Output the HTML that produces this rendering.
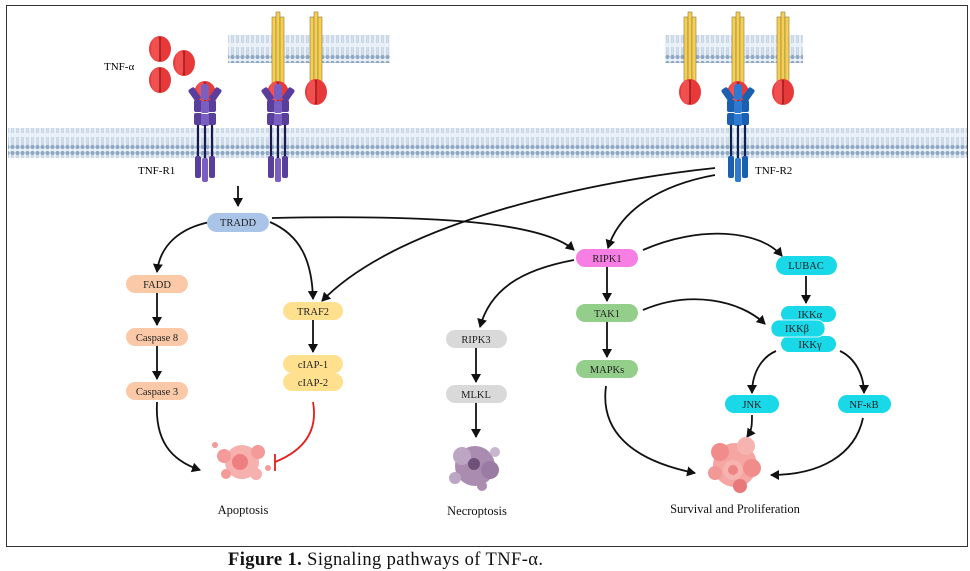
<!DOCTYPE html>
<html><head><meta charset="utf-8"><style>
html,body{margin:0;padding:0;background:#fff;}
svg{display:block;font-family:"Liberation Serif",serif;}
</style></head><body>
<svg width="970" height="571" viewBox="0 0 970 571" xmlns="http://www.w3.org/2000/svg">
<defs>
<pattern id="mem" x="0" y="0" width="5" height="30" patternUnits="userSpaceOnUse">
<rect width="5" height="30" fill="#e9f0f7"/>
<circle cx="2.5" cy="3" r="2.1" fill="#8ea8c4"/>
<circle cx="2.5" cy="27" r="2.1" fill="#8ea8c4"/>
<line x1="1.8" y1="5" x2="1.8" y2="13" stroke="#b4c6da" stroke-width="0.8"/>
<line x1="3.2" y1="5" x2="3.2" y2="13" stroke="#b4c6da" stroke-width="0.8"/>
<line x1="1.8" y1="17" x2="1.8" y2="25" stroke="#b4c6da" stroke-width="0.8"/>
<line x1="3.2" y1="17" x2="3.2" y2="25" stroke="#b4c6da" stroke-width="0.8"/>
</pattern>
<marker id="ar" markerWidth="10" markerHeight="10" refX="8" refY="5" orient="auto" markerUnits="userSpaceOnUse">
<path d="M0,0 L9,5 L0,10 z" fill="#111"/>
</marker>
<g id="tri">
<ellipse cx="0" cy="0" rx="11" ry="13" fill="#e63a3a"/>
<ellipse cx="-4" cy="0" rx="5" ry="12" fill="#f05050"/>
<line x1="0" y1="-12" x2="0" y2="12" stroke="#a01818" stroke-width="1.5"/>
</g>
<g id="rod">
<rect x="-6" y="-75" width="4" height="72" fill="#f6cf52" stroke="#8a7a40" stroke-width="0.6"/>
<rect x="-2" y="-80" width="4" height="80" fill="#f6cf52" stroke="#8a7a40" stroke-width="0.6"/>
<rect x="2" y="-75" width="4" height="72" fill="#f6cf52" stroke="#8a7a40" stroke-width="0.6"/>
</g>
<g id="rec1">
<rect x="-14" y="-9" width="7" height="14" rx="2" fill="#5a3e9e" transform="rotate(-35 -10 -2)"/>
<rect x="7" y="-9" width="7" height="14" rx="2" fill="#5a3e9e" transform="rotate(35 10 -2)"/>
<rect x="-11" y="4" width="8" height="12" rx="2" fill="#5a3e9e"/>
<rect x="3" y="4" width="8" height="12" rx="2" fill="#5a3e9e"/>
<rect x="-11" y="17" width="8" height="12" rx="2" fill="#5a3e9e"/>
<rect x="3" y="17" width="8" height="12" rx="2" fill="#5a3e9e"/>
<rect x="-4" y="-12" width="8" height="16" rx="3" fill="#7a5fc0"/>
<rect x="-4" y="5" width="8" height="12" rx="2" fill="#7a5fc0"/>
<rect x="-4" y="18" width="8" height="12" rx="2" fill="#7a5fc0"/>
<line x1="-7" y1="29" x2="-7" y2="62" stroke="#1c1850" stroke-width="2.2"/>
<line x1="0" y1="29" x2="0" y2="62" stroke="#1c1850" stroke-width="2.2"/>
<line x1="7" y1="29" x2="7" y2="62" stroke="#1c1850" stroke-width="2.2"/>
<rect x="-10" y="60" width="6" height="22" rx="2" fill="#5a3e9e"/>
<rect x="4" y="60" width="6" height="22" rx="2" fill="#5a3e9e"/>
<rect x="-3" y="62" width="6" height="24" rx="2" fill="#7a5fc0"/>
</g>
<g id="rec2">
<rect x="-14" y="-9" width="7" height="14" rx="2" fill="#1a5fb0" transform="rotate(-35 -10 -2)"/>
<rect x="7" y="-9" width="7" height="14" rx="2" fill="#1a5fb0" transform="rotate(35 10 -2)"/>
<rect x="-11" y="4" width="8" height="12" rx="2" fill="#1a5fb0"/>
<rect x="3" y="4" width="8" height="12" rx="2" fill="#1a5fb0"/>
<rect x="-11" y="17" width="8" height="12" rx="2" fill="#1a5fb0"/>
<rect x="3" y="17" width="8" height="12" rx="2" fill="#1a5fb0"/>
<rect x="-4" y="-12" width="8" height="16" rx="3" fill="#2f7ad0"/>
<rect x="-4" y="5" width="8" height="12" rx="2" fill="#2f7ad0"/>
<rect x="-4" y="18" width="8" height="12" rx="2" fill="#2f7ad0"/>
<line x1="-7" y1="29" x2="-7" y2="62" stroke="#0c2050" stroke-width="2.2"/>
<line x1="0" y1="29" x2="0" y2="62" stroke="#0c2050" stroke-width="2.2"/>
<line x1="7" y1="29" x2="7" y2="62" stroke="#0c2050" stroke-width="2.2"/>
<rect x="-10" y="60" width="6" height="22" rx="2" fill="#1a5fb0"/>
<rect x="4" y="60" width="6" height="22" rx="2" fill="#1a5fb0"/>
<rect x="-3" y="62" width="6" height="24" rx="2" fill="#2f7ad0"/>
</g>
</defs>

<rect x="6.5" y="5.5" width="961" height="541" fill="#fff" stroke="#333" stroke-width="1"/>

<rect x="8" y="128" width="959" height="30" fill="url(#mem)"/>
<rect x="228" y="35" width="162" height="28" fill="url(#mem)"/>
<rect x="665" y="35" width="138" height="28" fill="url(#mem)"/>

<use href="#tri" x="160" y="49"/>
<use href="#tri" x="184" y="63"/>
<use href="#tri" x="160" y="80"/>
<text x="104" y="70" font-size="11">TNF-α</text>

<use href="#rod" x="278" y="92"/>
<use href="#rod" x="316" y="92"/>
<use href="#rod" x="690" y="92"/>
<use href="#rod" x="738" y="92"/>
<use href="#rod" x="783" y="92"/>

<use href="#tri" x="205" y="94"/>
<use href="#tri" x="278" y="94"/>
<use href="#tri" x="316" y="92"/>
<use href="#tri" x="690" y="92"/>
<use href="#tri" x="738" y="94"/>
<use href="#tri" x="783" y="92"/>

<use href="#rec1" x="205" y="96"/>
<use href="#rec1" x="278" y="96"/>
<use href="#rec2" x="738" y="96"/>

<text x="138" y="174" font-size="11">TNF-R1</text>
<text x="755" y="174" font-size="11">TNF-R2</text>

<g fill="none" stroke="#111" stroke-width="1.8">
<path d="M238,186 L238,206" marker-end="url(#ar)"/>
<path d="M210,222 C180,228 160,245 157,272" marker-end="url(#ar)"/>
<path d="M270,222 C300,235 312,260 313,299" marker-end="url(#ar)"/>
<path d="M272,218 C420,215 540,220 574,250" marker-end="url(#ar)"/>
<path d="M157,293 L157,325" marker-end="url(#ar)"/>
<path d="M157,346 L157,379" marker-end="url(#ar)"/>
<path d="M157,402 C155,440 170,460 200,470" marker-end="url(#ar)"/>
<path d="M313,320 L313,352" marker-end="url(#ar)"/>
<path d="M715,168 C600,180 400,220 322,301" marker-end="url(#ar)"/>
<path d="M715,175 C660,185 620,210 608,248" marker-end="url(#ar)"/>
<path d="M574,260 C520,270 490,290 480,327" marker-end="url(#ar)"/>
<path d="M476,348 L476,382" marker-end="url(#ar)"/>
<path d="M476,403 L476,437" marker-end="url(#ar)"/>
<path d="M607,267 L607,301" marker-end="url(#ar)"/>
<path d="M607,322 L607,357" marker-end="url(#ar)"/>
<path d="M643,250 C700,225 760,230 782,256" marker-end="url(#ar)"/>
<path d="M643,310 C690,290 740,300 765,324" marker-end="url(#ar)"/>
<path d="M806,276 L806,303" marker-end="url(#ar)"/>
<path d="M776,351 C760,358 752,375 752,393" marker-end="url(#ar)"/>
<path d="M840,351 C855,358 864,375 864,393" marker-end="url(#ar)"/>
<path d="M752,415 C752,425 752,430 747,437" marker-end="url(#ar)"/>
<path d="M606,386 C600,430 630,460 695,473" marker-end="url(#ar)"/>
<path d="M863,418 C855,455 820,475 771,475" marker-end="url(#ar)"/>
</g>
<path d="M313,402 C318,430 305,450 275,462" fill="none" stroke="#e02020" stroke-width="1.8"/>
<line x1="275" y1="454" x2="275" y2="471" stroke="#e02020" stroke-width="1.8"/>

<g font-size="10.5" text-anchor="middle" fill="#222">
<rect x="207" y="213" width="62" height="19" rx="9.5" fill="#a9c4e6"/><text x="238" y="226">TRADD</text>
<rect x="126" y="275" width="62" height="18" rx="9" fill="#fbc9a8"/><text x="157" y="288">FADD</text>
<rect x="126" y="328" width="62" height="18" rx="9" fill="#fbc9a8"/><text x="157" y="341">Caspase 8</text>
<rect x="126" y="382" width="62" height="18" rx="9" fill="#fbc9a8"/><text x="157" y="395">Caspase 3</text>
<rect x="283" y="302" width="60" height="18" rx="9" fill="#ffe08f"/><text x="313" y="315">TRAF2</text>
<rect x="283" y="355" width="60" height="18" rx="9" fill="#ffe08f"/><text x="313" y="368">cIAP-1</text>
<rect x="283" y="373" width="60" height="18" rx="9" fill="#ffe08f"/><text x="313" y="386">cIAP-2</text>
<rect x="446" y="330" width="61" height="18" rx="9" fill="#d9d9d9"/><text x="476" y="343">RIPK3</text>
<rect x="446" y="385" width="61" height="18" rx="9" fill="#d9d9d9"/><text x="476" y="398">MLKL</text>
<rect x="576" y="249" width="62" height="18" rx="9" fill="#f77ee3"/><text x="607" y="262">RIPK1</text>
<rect x="576" y="304" width="62" height="18" rx="9" fill="#93cf8b"/><text x="607" y="317">TAK1</text>
<rect x="576" y="360" width="62" height="18" rx="9" fill="#93cf8b"/><text x="607" y="373">MAPKs</text>
<rect x="776" y="256" width="61" height="19" rx="9.5" fill="#19d8e8"/><text x="806" y="269">LUBAC</text>
<rect x="781" y="306" width="55" height="16" rx="8" fill="#19d8e8"/><text x="810" y="318">IKKα</text>
<rect x="781" y="336" width="55" height="16" rx="8" fill="#19d8e8"/><text x="810" y="348">IKKγ</text>
<rect x="771" y="320" width="54" height="17" rx="8" fill="#19d8e8" stroke="#fff" stroke-width="0.8"/><text x="797" y="332">IKKβ</text>
<rect x="725" y="395" width="54" height="18" rx="9" fill="#19d8e8"/><text x="752" y="408">JNK</text>
<rect x="838" y="395" width="53" height="18" rx="9" fill="#19d8e8"/><text x="864" y="408">NF-κB</text>
</g>

<g>
<circle cx="242" cy="462" r="17" fill="#f6b0ae"/>
<circle cx="224" cy="456" r="7" fill="#f49a98"/><circle cx="258" cy="452" r="7" fill="#f49a98"/>
<circle cx="240" cy="462" r="8" fill="#ee7f80"/><circle cx="226" cy="474" r="5" fill="#f49a98"/><circle cx="256" cy="474" r="6" fill="#f6b0ae"/>
<circle cx="215" cy="445" r="3" fill="#f49a98"/><circle cx="268" cy="468" r="3" fill="#f49a98"/>
</g>
<g>
<circle cx="475" cy="466" r="20" fill="#a98cb0"/>
<circle cx="462" cy="456" r="9" fill="#bda6c3"/><circle cx="490" cy="470" r="9" fill="#9a7ba3"/>
<circle cx="474" cy="464" r="6" fill="#6f5078"/><circle cx="495" cy="452" r="5" fill="#c8b6cd"/><circle cx="455" cy="478" r="6" fill="#bda6c3"/>
<circle cx="482" cy="486" r="5" fill="#a98cb0"/>
</g>
<g>
<circle cx="735" cy="465" r="22" fill="#f5a6a3"/>
<circle cx="720" cy="452" r="9" fill="#f08c8a"/><circle cx="746" cy="446" r="9" fill="#f6b4b1"/><circle cx="752" cy="468" r="9" fill="#f08c8a"/>
<circle cx="733" cy="470" r="10" fill="#f6b4b1"/><circle cx="733" cy="470" r="5" fill="#ee8584"/>
<circle cx="715" cy="473" r="7" fill="#f29896"/><circle cx="740" cy="486" r="7" fill="#e97878"/>
</g>

<g font-size="12.5" text-anchor="middle" fill="#111">
<text x="243" y="514">Apoptosis</text>
<text x="477" y="515">Necroptosis</text>
<text x="735" y="513">Survival and Proliferation</text>
</g>

<text x="228" y="565" font-size="18.5" fill="#111" textLength="315"><tspan font-weight="bold">Figure 1.</tspan> Signaling pathways of TNF-α.</text>
</svg>
</body></html>
